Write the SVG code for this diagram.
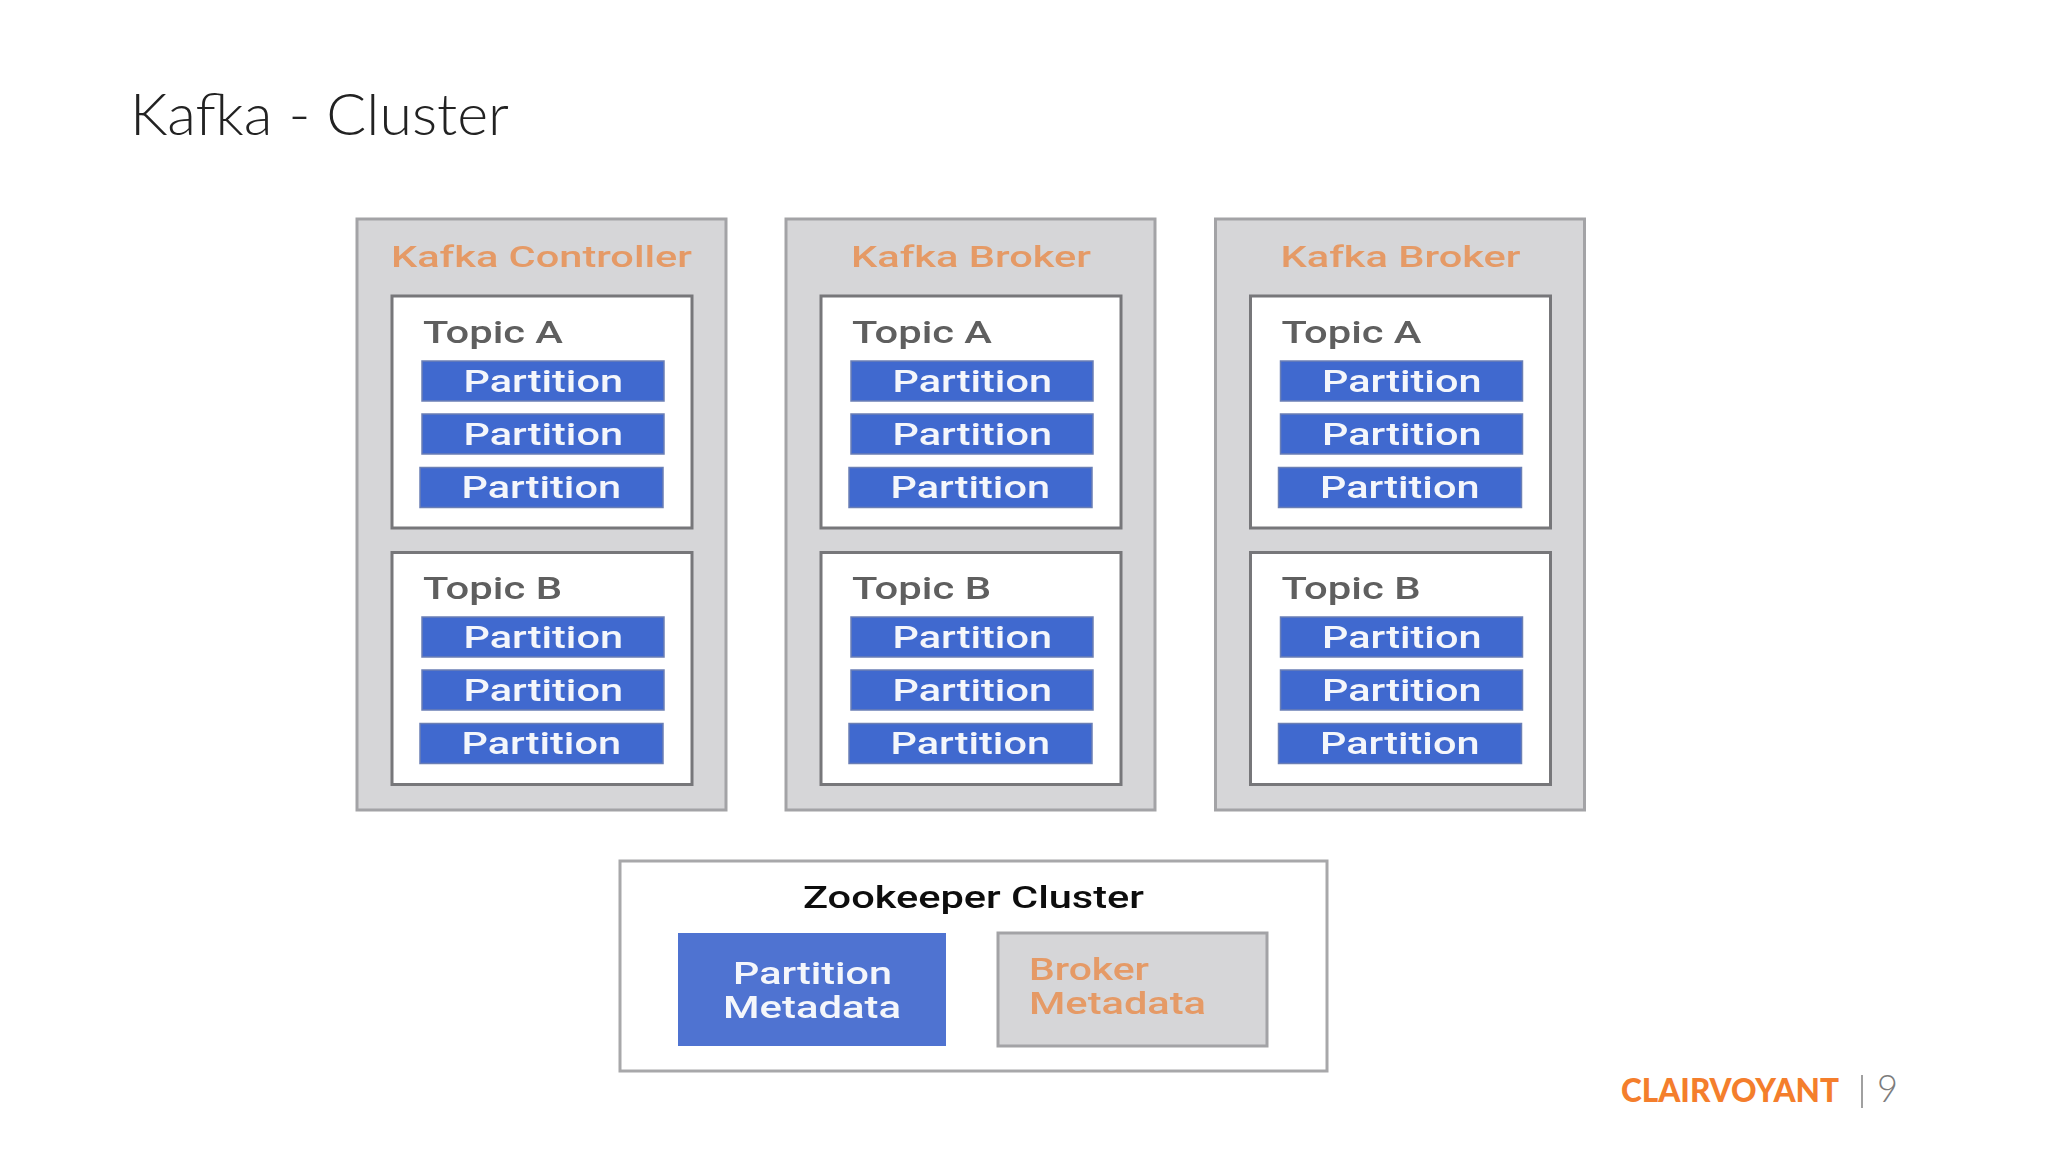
<svg xmlns="http://www.w3.org/2000/svg" width="2048" height="1152" viewBox="0 0 2048 1152">
<style>
text{font-family:Roboto,"Liberation Sans",Arial,sans-serif;font-size:30px}
.outer{fill:#d6d6d8;stroke:#a3a3a6;stroke-width:3}
.inner{fill:#fff;stroke:#77777a;stroke-width:3}
.part{fill:#4169cf;stroke:#6b7fb5;stroke-width:1.5}
.pt{fill:#f4f6fb;font-weight:500;font-size:32px}
.head{fill:#e59a66;font-weight:500;font-size:30px}
.topic{fill:#5e5e5e;font-weight:500;font-size:31px}
</style>
<defs>
<filter id="soft" x="-2%" y="-2%" width="104%" height="104%"><feGaussianBlur stdDeviation="0.7"/></filter>
<g id="topicRows">
<rect class="part" x="422" y="361" width="242" height="40"/>
<text class="pt" x="463.5" y="392" textLength="159.5" lengthAdjust="spacingAndGlyphs">Partition</text>
<rect class="part" x="422" y="414" width="242" height="40"/>
<text class="pt" x="463.5" y="445" textLength="159.5" lengthAdjust="spacingAndGlyphs">Partition</text>
<rect class="part" x="420" y="467.5" width="243" height="40"/>
<text class="pt" x="461.5" y="498" textLength="159.5" lengthAdjust="spacingAndGlyphs">Partition</text>
</g>
</defs>
<rect width="2048" height="1152" fill="#fff"/>
<text id="title" x="130" y="135" style="font-family:Lato,'Noto Sans',sans-serif;font-weight:300;font-size:57px" fill="#222" textLength="379" lengthAdjust="spacingAndGlyphs">Kafka - Cluster</text>
<g filter="url(#soft)">
<g id="controller">
<rect class="outer" x="357" y="219" width="369" height="591"/>
<text class="head" x="391" y="267" textLength="301" lengthAdjust="spacingAndGlyphs">Kafka Controller</text>
<g id="controller-topic-a"><rect class="inner" x="392" y="296" width="300" height="232"/><text class="topic" x="423" y="343" textLength="140" lengthAdjust="spacingAndGlyphs">Topic A</text><use href="#topicRows"/></g>
<g id="controller-topic-b" transform="translate(0 256)"><rect class="inner" x="392" y="296.5" width="300" height="232"/><text class="topic" x="423" y="343" textLength="139" lengthAdjust="spacingAndGlyphs">Topic B</text><use href="#topicRows"/></g>
</g>
<g id="broker-1" transform="translate(429 0)">
<rect class="outer" x="357" y="219" width="369" height="591"/>
<text class="head" x="422" y="267" textLength="240" lengthAdjust="spacingAndGlyphs">Kafka Broker</text>
<g id="broker-1-topic-a"><rect class="inner" x="392" y="296" width="300" height="232"/><text class="topic" x="423" y="343" textLength="140" lengthAdjust="spacingAndGlyphs">Topic A</text><use href="#topicRows"/></g>
<g id="broker-1-topic-b" transform="translate(0 256)"><rect class="inner" x="392" y="296.5" width="300" height="232"/><text class="topic" x="423" y="343" textLength="139" lengthAdjust="spacingAndGlyphs">Topic B</text><use href="#topicRows"/></g>
</g>
<g id="broker-2" transform="translate(858.5 0)">
<rect class="outer" x="357" y="219" width="369" height="591"/>
<text class="head" x="422" y="267" textLength="240" lengthAdjust="spacingAndGlyphs">Kafka Broker</text>
<g id="broker-2-topic-a"><rect class="inner" x="392" y="296" width="300" height="232"/><text class="topic" x="423" y="343" textLength="140" lengthAdjust="spacingAndGlyphs">Topic A</text><use href="#topicRows"/></g>
<g id="broker-2-topic-b" transform="translate(0 256)"><rect class="inner" x="392" y="296.5" width="300" height="232"/><text class="topic" x="423" y="343" textLength="139" lengthAdjust="spacingAndGlyphs">Topic B</text><use href="#topicRows"/></g>
</g>
<g id="zookeeper">
<rect x="620" y="861" width="707" height="210" fill="#fff" stroke="#a8a8aa" stroke-width="3"/>
<text x="803" y="908" fill="#111" textLength="341" lengthAdjust="spacingAndGlyphs" style="font-size:31px;font-weight:500">Zookeeper Cluster</text>
<g id="partition-metadata">
<rect x="678" y="933" width="268" height="113" fill="#4f73d1"/>
<text class="pt" x="733" y="984" textLength="159" lengthAdjust="spacingAndGlyphs">Partition</text>
<text class="pt" x="723" y="1018" textLength="178" lengthAdjust="spacingAndGlyphs">Metadata</text>
</g>
<g id="broker-metadata">
<rect x="998" y="933" width="269" height="113" fill="#d6d6d8" stroke="#a3a3a6" stroke-width="3"/>
<text class="head" x="1029" y="980" textLength="120" lengthAdjust="spacingAndGlyphs" style="font-size:31px">Broker</text>
<text class="head" x="1029" y="1014" textLength="177" lengthAdjust="spacingAndGlyphs" style="font-size:31px">Metadata</text>
</g>
</g>
</g>
<g id="footer">
<text x="1621" y="1102" style="font-family:Lato,'Noto Sans',sans-serif;font-weight:900;font-size:32px" fill="#f47e2c" textLength="218" lengthAdjust="spacingAndGlyphs">CLAIRVOYANT</text>
<rect x="1861" y="1075" width="2" height="33" fill="#a0a0a0"/>
<text x="1877" y="1102" style="font-family:Lato,'Noto Sans',sans-serif;font-weight:300;font-size:38px" fill="#7c7c7c" textLength="21" lengthAdjust="spacingAndGlyphs">9</text>
</g>
</svg>
